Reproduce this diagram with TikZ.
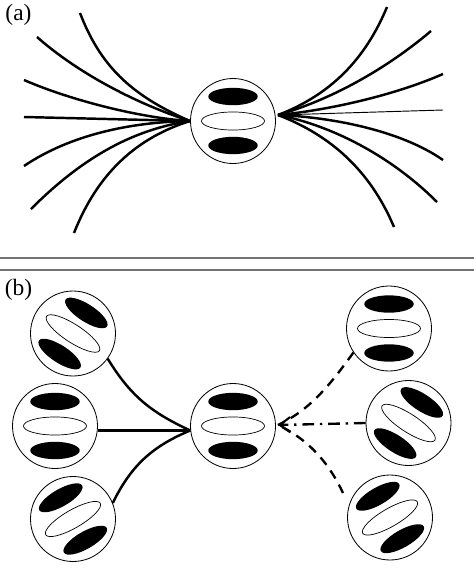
\documentclass[tikz,border=0pt]{standalone}
\usepackage{fontspec}
\setmainfont{Liberation Serif}
\usetikzlibrary{arrows.meta,calc}

\tikzset{
  cellring/.style={draw, circle, line width=0.7pt, minimum size=2.55cm, inner sep=0pt},
  blobs/.pic={
    \fill (0,20.9pt) ellipse [x radius=21.1pt, y radius=7.4pt];
    \draw[line width=0.6pt] (0,0) ellipse [x radius=26.9pt, y radius=7.7pt];
    \fill (0,-20.9pt) ellipse [x radius=21.1pt, y radius=7.4pt];
  },
  fanline/.style={line width=2.1pt},
  thinline/.style={line width=0.8pt},
  dashline/.style={line width=2pt, dash pattern=on 8pt off 6pt},
  dashdotline/.style={line width=2pt, dash pattern=on 10pt off 5pt on 2pt off 5pt},
  panellabel/.style={font=\fontsize{20}{22}\selectfont, inner sep=0pt},
  sepline/.style={line width=0.9pt, draw=black!55},
}

\begin{document}
\begin{tikzpicture}[x=0.03cm, y=-0.03cm]
  \useasboundingbox (0,0) rectangle (474,578);

  % panel (a)
  \node[panellabel] (la) at (18.5,15) {(a)};
  \node[cellring] (ca) at (233,121) {};
  \pic at (ca) {blobs};
  \coordinate (fl) at (190,121);
  \coordinate (fr) at (278,115);
  \draw[fanline] (fl) .. controls (130,95) and (100,65) .. (80,13);
  \draw[fanline] (fl) .. controls (140,105) and (80,75) .. (37,37);
  \draw[fanline] (fl) .. controls (140,118) and (70,100) .. (24,80);
  \draw[fanline] (fl) -- (24,117);
  \draw[fanline] (fl) .. controls (130,122) and (70,135) .. (24,166);
  \draw[fanline] (fl) .. controls (130,130) and (80,160) .. (31,209);
  \draw[fanline] (fl) .. controls (130,140) and (95,180) .. (74,233);
  \draw[fanline] (fr) .. controls (330,95) and (365,60) .. (387,7);
  \draw[fanline] (fr) .. controls (330,100) and (385,70) .. (431,31);
  \draw[fanline] (fr) .. controls (330,110) and (395,95) .. (443,74);
  \draw[thinline] (fr) -- (443,110);
  \draw[fanline] (fr) .. controls (330,117) and (400,130) .. (443,160);
  \draw[fanline] (fr) .. controls (330,125) and (390,155) .. (437,202);
  \draw[fanline] (fr) .. controls (330,135) and (370,170) .. (394,227);

  % separators
  \draw[sepline] (0,258) -- (474,258);
  \draw[sepline] (0,270) -- (474,270);

  % panel (b)
  \node[panellabel] (lb) at (18.5,290) {(b)};
  \node[cellring] (cb) at (233,426) {};
  \pic at (cb) {blobs};
  \node[cellring] (l1) at (73,333.5) {};
  \pic[rotate=-33] at (l1) {blobs};
  \node[cellring] (l2) at (55,426) {};
  \pic at (l2) {blobs};
  \node[cellring] (l3) at (73,519) {};
  \pic[rotate=30] at (l3) {blobs};
  \node[cellring] (r1) at (389,328.5) {};
  \pic at (r1) {blobs};
  \node[cellring] (r2) at (408.5,423) {};
  \pic[rotate=-33] at (r2) {blobs};
  \node[cellring] (r3) at (390,517.5) {};
  \pic[rotate=30] at (r3) {blobs};

  \coordinate (jb) at (cb.186);
  \draw[fanline] (l1.-36) .. controls (130,395) and (150,412) .. (jb);
  \draw[fanline] (l2.-6) -- (jb);
  \draw[fanline] (l3.22) .. controls (130,468) and (150,447) .. (jb);

  \coordinate (tb) at ($(cb.east)+(2,-1)$);
  \draw[dashline] (r1.214) .. controls (330,385) and (310,410) .. (tb);
  \draw[dashdotline, -{Straight Barb[length=9pt, width=13pt, line width=1.8pt]}] (r2.west) -- (tb);
  \draw[dashline] (343,493) .. controls (330,465) and (310,440) .. (tb);
\end{tikzpicture}
\end{document}
